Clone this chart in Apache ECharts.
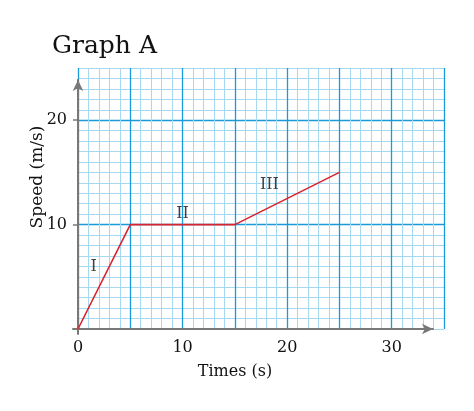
<!DOCTYPE html>
<html>
<head>
<meta charset="utf-8">
<script src="https://cdn.jsdelivr.net/npm/echarts@6/dist/echarts.min.js"></script>
<style>
	html, body { margin: 0; padding: 0; background: #fff; }
	#chart { width: 474px; height: 411px; }
</style>
</head>
<body>
<div id="chart"></div>
<script>
// data
var timeVals = [0, 5, 15, 25];
var speedVals = [0, 10, 10, 15];

var stageNames = ["I", "II", "III"];
var stageX = [1.5, 10, 18.3];
var stageY = [6, 11, 13.8];

var xLabels = [0, 10, 20, 30];
var yLabels = [10, 20];

var font = "DejaVu Serif";
var axisGray = "#787878";
var majorBlue = "#1a9ad8";
var minorBlue = "#a6d8f2";

var chart = echarts.init(document.getElementById("chart"));

var lineData = [];
for (var i = 0; i < timeVals.length; i++) {
	lineData.push([timeVals[i], speedVals[i]]);
}

var stageData = [];
for (var j = 0; j < stageNames.length; j++) {
	stageData.push({ value: [stageX[j], stageY[j]], name: stageNames[j] });
}

// plain axis used only for its grid lines
function gridAxis(max, step, color, width, pos) {
	return {
		type: "value",
		gridIndex: 0,
		position: pos,
		min: 0,
		max: max,
		interval: step,
		axisLine: { show: false },
		axisTick: { show: false },
		axisLabel: { show: false },
		splitLine: { show: true, lineStyle: { color: color, width: width } }
	};
}

// axis used only for the grey arrow
function arrowAxis(grid, pos) {
	return {
		type: "value",
		gridIndex: grid,
		position: pos,
		min: 0,
		max: 1,
		z: 3,
		axisLine: {
			show: true,
			onZero: false,
			symbol: ["none", "arrow"],
			symbolSize: [8, 11],
			lineStyle: { color: axisGray, width: 2 }
		},
		axisTick: { show: false },
		axisLabel: { show: false },
		splitLine: { show: false }
	};
}

function hiddenAxis(grid) {
	return { type: "value", gridIndex: grid, show: false, min: 0, max: 1 };
}

var xMinor = gridAxis(35, 1, minorBlue, 1, "bottom");
var yMinor = gridAxis(25, 1, minorBlue, 1, "left");

var xMajor = gridAxis(35, 5, majorBlue, 1.3, "bottom");
xMajor.name = "Times (s)";
xMajor.nameLocation = "middle";
xMajor.nameGap = 35;
xMajor.nameMoveOverlap = false;
xMajor.nameTextStyle = { fontFamily: font, fontSize: 16, color: "#111", padding: [0, 52, 0, 0] };
xMajor.axisLabel = { show: true, customValues: xLabels, margin: 11, fontFamily: font, fontSize: 16, color: "#111" };

var yMajor = gridAxis(25, 5, majorBlue, 1.3, "left");
yMajor.name = "Speed (m/s)";
yMajor.nameLocation = "middle";
yMajor.nameGap = 32;
yMajor.nameMoveOverlap = false;
yMajor.nameTextStyle = { fontFamily: font, fontSize: 17, color: "#111", padding: [0, 0, 0, 43] };
yMajor.axisTick = { show: true, customValues: yLabels, length: 5, lineStyle: { color: axisGray, width: 1.5 } };
yMajor.axisLabel = { show: true, customValues: yLabels, margin: 11, fontFamily: font, fontSize: 16, color: "#111" };

var option = {
	animation: false,
	title: {
		text: "Graph A",
		left: 47,
		top: 29,
		textStyle: {
			fontFamily: font,
			fontSize: 25,
			fontWeight: "normal",
			color: "#111"
		}
	},
	grid: [
		{ left: 78, top: 68, width: 366, height: 261, outerBoundsMode: "none" },
		{ left: 73, top: 68, width: 360, height: 261, outerBoundsMode: "none" },
		{ left: 78, top: 80, width: 366, height: 254, outerBoundsMode: "none" }
	],
	xAxis: [xMinor, xMajor, arrowAxis(1, "bottom"), hiddenAxis(2)],
	yAxis: [yMinor, yMajor, hiddenAxis(1), arrowAxis(2, "left")],
	series: [
		{
			type: "line",
			xAxisIndex: 1,
			yAxisIndex: 1,
			data: lineData,
			symbol: "none",
			clip: false,
			lineStyle: { color: "#d9232e", width: 1.6 },
			z: 5
		},
		{
			type: "scatter",
			xAxisIndex: 1,
			yAxisIndex: 1,
			data: stageData,
			symbolSize: 0,
			label: {
				show: true,
				position: "inside",
				formatter: function (p) { return p.name; },
				fontFamily: font,
				fontSize: 16,
				color: "#111"
			}
		}
	]
};

chart.setOption(option);
</script>
</body>
</html>
